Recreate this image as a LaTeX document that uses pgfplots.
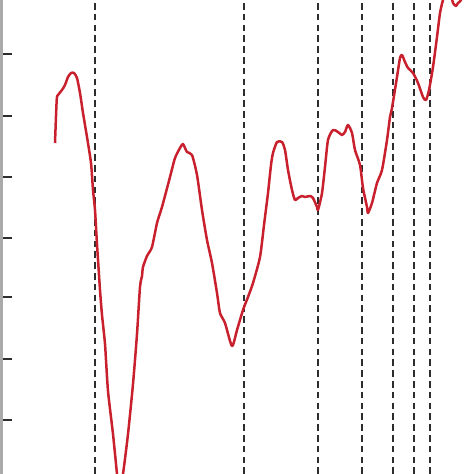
\documentclass[border=0pt]{standalone}
\usepackage{pgfplots}
\pgfplotsset{compat=1.18}
\definecolor{curvered}{RGB}{200,32,45}
\definecolor{dashgray}{RGB}{45,45,45}
\definecolor{axisgray}{RGB}{170,170,170}
\begin{document}
\begin{tikzpicture}
\begin{axis}[
  scale only axis, width=474pt, height=474pt,
  xmin=1.4, xmax=475.4, ymin=0, ymax=474, y dir=reverse,
  axis x line=none, axis y line*=left,
  y axis line style={color=axisgray, line width=2.6pt, -},
  ytick={54,116,177,238,297,359,420}, yticklabels={},
  xtick=\empty,
  tick align=inside, major tick length=11pt,
  ytick style={color=dashgray, line width=1.8pt},
  clip=true,
]
\addplot[color=dashgray, line width=1.9pt, dash pattern=on 6.5pt off 4.3pt] coordinates {(95,3) (95,474)};
\addplot[color=dashgray, line width=1.9pt, dash pattern=on 6.5pt off 4.3pt] coordinates {(244,3) (244,474)};
\addplot[color=dashgray, line width=1.9pt, dash pattern=on 6.5pt off 4.3pt] coordinates {(318,3) (318,474)};
\addplot[color=dashgray, line width=1.9pt, dash pattern=on 6.5pt off 4.3pt] coordinates {(362,3) (362,474)};
\addplot[color=dashgray, line width=1.9pt, dash pattern=on 6.5pt off 4.3pt] coordinates {(393,3) (393,474)};
\addplot[color=dashgray, line width=1.9pt, dash pattern=on 6.5pt off 4.3pt] coordinates {(414,3) (414,474)};
\addplot[color=dashgray, line width=1.9pt, dash pattern=on 6.5pt off 4.3pt] coordinates {(430,3) (430,474)};
\addplot[color=curvered, line width=2.5pt, smooth, tension=0.4, line join=round] coordinates {
(55,143) (56.7,100) (58,95) (62,90) (65,85) (68,77) (71,73) (74,73) (77,78)
(80,93) (83,113) (87,137) (91,163) (93,190) (95,210) (97,244) (100,290)
(102,315) (105,344) (108,391) (113,434) (117,474) (119,492) (121,480)
(123,474) (128,434) (133,384) (137,334) (140,287) (142,276) (143,267)
(147,256) (152,247) (157,223) (162,207) (170,177) (175,158) (180,148)
(183,144) (187,152) (192,155) (197,175) (202,210) (207,240) (212,263)
(217,293) (220,313) (225,323) (232,346) (237,330) (243,310) (248,297)
(253,283) (260,257) (264,225) (268,193) (271,165) (273,153) (277,142)
(282,142) (285,150) (288,170) (292,190) (295,200) (298,198) (302,196)
(305,197) (310,196) (313,198) (317,207) (318,210) (322,193) (325,167)
(328,140) (333,130) (338,132) (342,135) (345,132) (348,125) (352,133)
(355,150) (360,165) (363,188) (367,207) (368,213) (372,203) (377,183)
(382,170) (387,140) (390,117) (392,108) (397,77) (400,58) (402,55)
(405,62) (408,68) (413,73) (418,83) (423,97) (426,100) (429,90) (433,67)
(437,37) (440,13) (443,0) (447,-12) (451,-6) (453,3) (456,6) (458,3)
(461,0) (466,-15) (474,-40)
};
\end{axis}
\pgfresetboundingbox
\path (-1.4pt,0pt) rectangle (472.6pt,474pt);
\end{tikzpicture}
\end{document}
